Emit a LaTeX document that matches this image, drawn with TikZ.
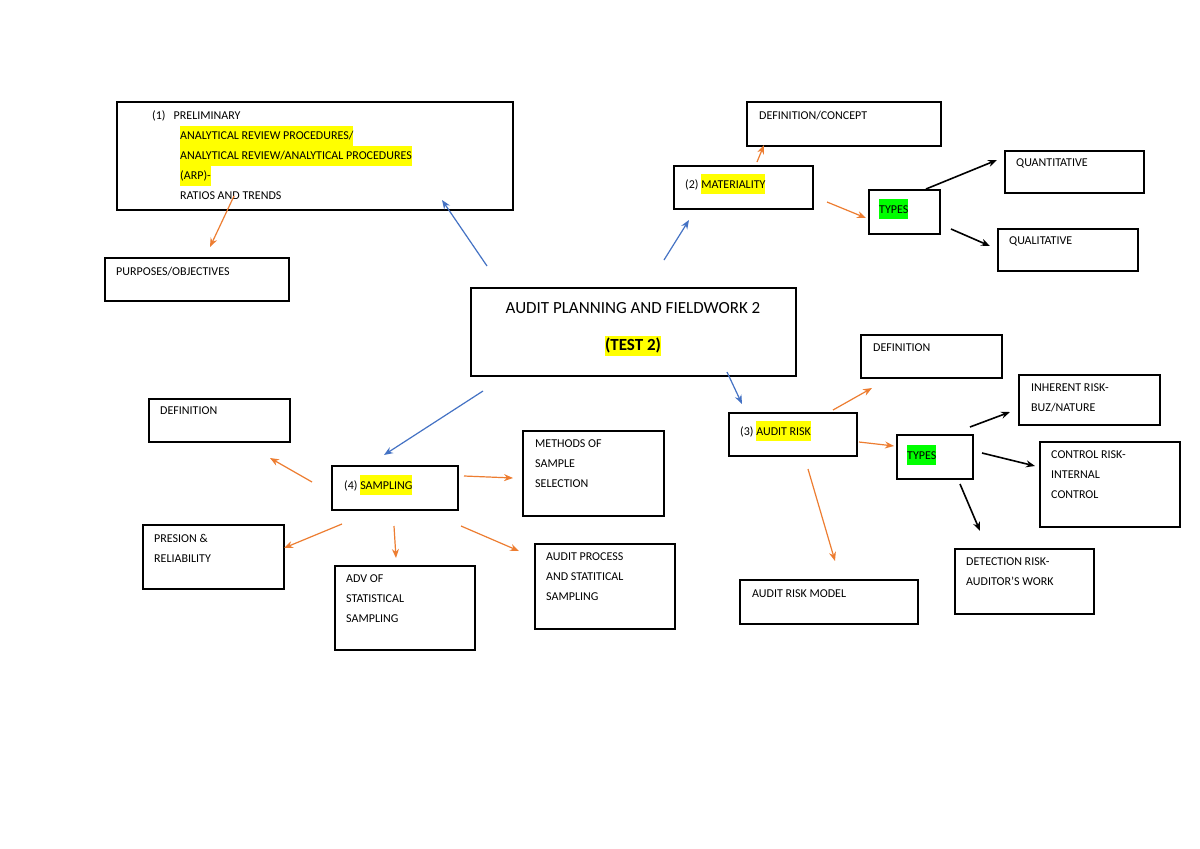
\documentclass[tikz,border=0pt]{standalone}
\usepackage{fontspec}
\setmainfont{Carlito}
\usetikzlibrary{arrows.meta}
\definecolor{ablue}{HTML}{4472C4}
\definecolor{aorange}{HTML}{ED7D31}
\definecolor{hy}{HTML}{FFFF00}
\definecolor{hg}{HTML}{00FF00}
\newcommand{\hly}[1]{\colorbox{hy}{\strut #1}}
\newcommand{\hlg}[1]{\colorbox{hg}{\strut #1}}
\begin{document}
\begin{tikzpicture}[x=1pt,y=-1pt,
  box/.style={draw,line width=1.4pt},
  lab/.style={anchor=north west,inner sep=0pt,font=\fontsize{12}{20}\selectfont,align=left},
  bl/.style={draw=ablue,line width=1.2pt,-{Stealth[length=9pt,width=7pt]}},
  or/.style={draw=aorange,line width=1.2pt,-{Stealth[length=9pt,width=7pt]}},
  bk/.style={draw=black,line width=1.6pt,-{Stealth[length=9pt,width=7pt]}}]
\setlength{\fboxsep}{0pt}
\useasboundingbox[fill=white] (0,0) rectangle (1200,849);
% boxes
\draw[box] (117,102) rectangle (513,210);
\node[lab] (prel) at (152,111) {(1)\ \ \ PRELIMINARY\\
\hspace*{28pt}\hly{ANALYTICAL REVIEW PROCEDURES/}\\
\hspace*{28pt}\hly{ANALYTICAL REVIEW/ANALYTICAL PROCEDURES}\\
\hspace*{28pt}\hly{(ARP)-}\\
\hspace*{28pt}RATIOS AND TRENDS};
\draw[box] (105,258) rectangle (289,301);
\node[lab] (purp) at (116,267) {PURPOSES/OBJECTIVES};
\draw[box] (471,288) rectangle (796,376);
\node[font=\fontsize{17}{20}\selectfont] (title) at (633,308) {AUDIT PLANNING AND FIELDWORK 2};
\node[font=\fontsize{17}{20}\selectfont\bfseries] (test) at (633,346) {\hly{(TEST 2)}};
\draw[box] (747,102) rectangle (941,146);
\node[lab] (defc) at (759,111) {DEFINITION/CONCEPT};
\draw[box] (674,166) rectangle (813,209);
\node[lab] (mat) at (685,174) {(2) \hly{MATERIALITY}};
\draw[box] (869,190) rectangle (940,234);
\node[lab] (types1) at (879,199) {\hlg{TYPES}};
\draw[box] (1005,151) rectangle (1144,193);
\node[lab] (quan) at (1016,159) {QUANTITATIVE};
\draw[box] (998,229) rectangle (1138,271);
\node[lab] (qual) at (1009,237) {QUALITATIVE};
\draw[box] (861,335) rectangle (1002,378);
\node[lab] (defr) at (873,344) {DEFINITION};
\draw[box] (729,413) rectangle (857,456);
\node[lab] (ar) at (740,421) {(3) \hly{AUDIT RISK}};
\draw[box] (897,435) rectangle (973,479);
\node[lab] (types2) at (907,445) {\hlg{TYPES}};
\draw[box] (1019,375) rectangle (1160,425);
\node[lab] (inh) at (1031,384) {INHERENT RISK-\\BUZ/NATURE};
\draw[box] (1040,442) rectangle (1180,527);
\node[lab] (ctl) at (1051,451) {CONTROL RISK-\\INTERNAL\\CONTROL};
\draw[box] (955,549) rectangle (1094,614);
\node[lab] (det) at (966,558) {DETECTION RISK-\\AUDITOR’S WORK};
\draw[box] (740,580) rectangle (918,624);
\node[lab] (arm) at (752,590) {AUDIT RISK MODEL};
\draw[box] (149,399) rectangle (290,442);
\node[lab] (defl) at (160,407) {DEFINITION};
\draw[box] (332,466) rectangle (458,510);
\node[lab] (samp) at (344,475) {(4) \hly{SAMPLING}};
\draw[box] (523,431) rectangle (664,516);
\node[lab] (meth) at (535,440) {METHODS OF\\SAMPLE\\SELECTION};
\draw[box] (143,525) rectangle (284,589);
\node[lab] (pres) at (154,534) {PRESION \&\\RELIABILITY};
\draw[box] (335,566) rectangle (475,650);
\node[lab] (adv) at (346,575) {ADV OF\\STATISTICAL\\SAMPLING};
\draw[box] (535,544) rectangle (675,629);
\node[lab] (proc) at (546,553) {AUDIT PROCESS\\AND STATITICAL\\SAMPLING};
% arrows
\foreach \s/\e/\st in {
 {487,266}/{442,200}/bl, {664,260}/{689,220}/bl, {727,372}/{742,404}/bl, {483,391}/{384,455}/bl,
 {234,196}/{210,247}/or, {757,162}/{764,145}/or, {827,202}/{866,218}/or, {859,442}/{894,446}/or,
 {833,410}/{872,388}/or, {808,469}/{835,561}/or, {312,482}/{270,458}/or, {464,476}/{513,478}/or,
 {342,524}/{284,548}/or, {394,526}/{396,558}/or, {461,526}/{519,551}/or,
 {926,189}/{997,160}/bk, {951,229}/{990,246}/bk, {970,427}/{1010,412}/bk, {982,453}/{1035,466}/bk,
 {960,484}/{980,531}/bk}
 { \coordinate (s) at (\s); \coordinate (e) at (\e); \draw[\st] (s) -- (e); }
\end{tikzpicture}
\end{document}
